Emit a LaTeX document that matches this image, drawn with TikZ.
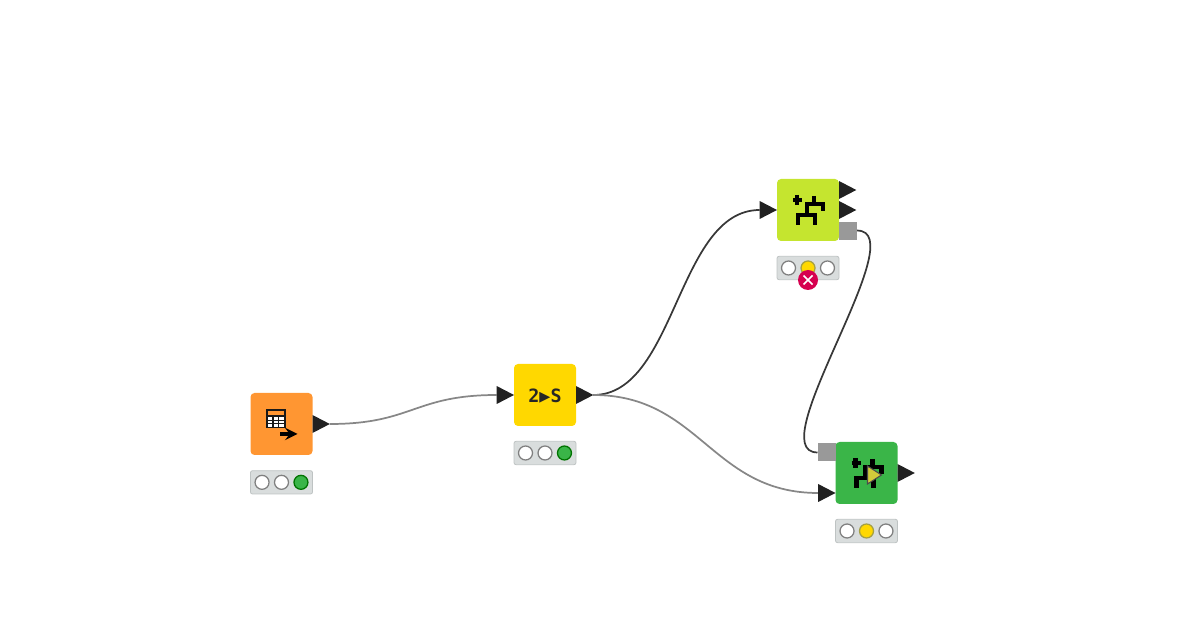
\documentclass[tikz,border=0pt]{standalone}
\usepackage{fontspec}
\newfontfamily\iconfont{DejaVu Sans Mono}
\usetikzlibrary{
    backgrounds,
    positioning,
    shapes.geometric
}
\definecolor{nodeorange}{HTML}{FF9632}
\definecolor{nodeyellow}{HTML}{FFD800}
\definecolor{nodelime}{HTML}{C5E52F}
\definecolor{nodegreen}{HTML}{3AB548}
\definecolor{errorred}{HTML}{D6004F}
\definecolor{barfill}{HTML}{D9DDDD}
\definecolor{barline}{HTML}{BEC3C3}
\definecolor{playyellow}{HTML}{D2CB3A}
\tikzset{
    nodebox/.style={rectangle, rounded corners=3pt, minimum size=46.5pt, inner sep=0pt, outer sep=0pt},
    statusbar/.style={rectangle, rounded corners=1.5pt, draw=barline, fill=barfill, line width=.6pt, minimum width=46.5pt, minimum height=17.5pt, inner sep=0pt},
    light/.style={circle, draw=black!50, fill=white, line width=.95pt, minimum size=10.5pt, inner sep=0pt},
    lightgreen/.style={light, draw=green!45!black, fill=nodegreen},
    lightyellow/.style={light, draw=yellow!60!black, fill=nodeyellow},
    porttri/.style={isosceles triangle, isosceles triangle stretches, shape border rotate=0, fill=black!87, minimum width=13.5pt, minimum height=13pt, inner sep=0pt, outer sep=0pt, anchor=lower side},
    portsq/.style={rectangle, fill=black!40, minimum size=13.5pt, inner sep=0pt, outer sep=0pt},
    wire/.style={line width=1.3pt, draw=black!78, out=0, in=180},
    datawire/.style={wire, draw=black!47},
    errorbadge/.style={circle, fill=errorred, minimum size=15pt, inner sep=0pt},
    pics/crossicon/.style={code={
        \draw[line width=3.3pt] (-15,-10) -- (-6,-10) (-11,-15) -- (-11,-5);
        \draw[line width=3.3pt] (6,-14) -- (6,-6) (-1,5) -- (-1,-6) -- (15,-6) -- (15,1);
        \draw[line width=3.3pt] (-10,15) -- (-10,5) -- (7,5) -- (7,15);
    }},
}

\begin{document}
\begin{tikzpicture}[x=.75pt,y=-.75pt,on grid]
   \useasboundingbox (0,0) rectangle (1200,630);
   % nodes
   \node[nodebox,fill=nodeorange] (n_1) at (281.5,424) {};
   \node[nodebox,fill=nodeyellow] (n_2) at (545,395) {};
   \node[nodebox,fill=nodelime] (n_3) at (808,210) {};
   \node[nodebox,fill=nodegreen] (n_4) at (866.5,473) {};
   % status bars
   \node[statusbar] (s_1) [below=43.75pt of n_1] {};
   \node[statusbar] (s_2) [below=43.5pt of n_2] {};
   \node[statusbar] (s_3) [below=43.5pt of n_3] {};
   \node[statusbar] (s_4) [below=43.5pt of n_4] {};
   \node[light] (l_12) at (s_1) {};
   \node[light] (l_11) [left=14.6pt of l_12] {};
   \node[lightgreen] (l_13) [right=14.6pt of l_12] {};
   \node[light] (l_22) at (s_2) {};
   \node[light] (l_21) [left=14.6pt of l_22] {};
   \node[lightgreen] (l_23) [right=14.6pt of l_22] {};
   \node[lightyellow] (l_32) at (s_3) {};
   \node[light] (l_31) [left=14.6pt of l_32] {};
   \node[light] (l_33) [right=14.6pt of l_32] {};
   \node[lightyellow] (l_42) at (s_4) {};
   \node[light] (l_41) [left=14.6pt of l_42] {};
   \node[light] (l_43) [right=14.6pt of l_42] {};
   \node[errorbadge] (e_3) [below=9pt of l_32] {};
   \draw[white,line width=1.2pt] (e_3.center) +(-4.5,-4.5) -- +(4.5,4.5) +(-4.5,4.5) -- +(4.5,-4.5);
   % ports
   \node[porttri] (p_1o) at (n_1.east) {};
   \node[porttri,anchor=apex] (p_2i) at (n_2.west) {};
   \node[porttri] (p_2o) at (n_2.east) {};
   \node[porttri,anchor=apex] (p_3i) at (n_3.west) {};
   \node[porttri,yshift=15pt] (p_3a) at (n_3.east) {};
   \node[porttri] (p_3b) at (n_3.east) {};
   \node[portsq,anchor=west,yshift=-15.4pt] (p_3c) at (n_3.east) {};
   \node[portsq,anchor=east,yshift=15.4pt] (p_4c) at (n_4.west) {};
   \node[porttri,anchor=apex,yshift=-15pt] (p_4i) at (n_4.west) {};
   \node[porttri] (p_4o) at (n_4.east) {};
   % connectors
   \begin{scope}[on background layer]
    \path
    (p_1o) edge[datawire,distance=62pt] (p_2i)
    (p_2o) edge[wire,distance=62pt] (p_3i)
    (p_2o) edge[datawire,distance=80pt] (p_4i)
    (p_3c) edge[wire,distance=44pt] (p_4c);
   \end{scope}
   % icons
   \begin{scope}[shift={(n_1.center)}]
    \fill[black!90] (-15.5,-15) rectangle (4.5,4);
    \fill[nodeorange] (-13.5,-13) rectangle (2.5,-8.5);
    \foreach \i in {0,1,2}
      \foreach \j in {0,1,2}
        \fill[white] (-13.5+5.6*\i,-7+3.7*\j) rectangle (-9.2+5.6*\i,-4.2+3.7*\j);
    \draw[->,>=stealth,line width=3pt] (-1.5,10) -- (16,10);
   \end{scope}
   \node[font=\iconfont\bfseries\fontsize{13.75pt}{14pt}\selectfont,inner sep=0pt,yshift=-.8pt,text=black!85] (t_2) at (n_2.center) {2▶S};
   \pic at (n_3.center) {crossicon};
   \pic at (n_4.center) {crossicon};
   \draw[fill=playyellow,draw=black!70,line width=.8pt,shift={(n_4.center)}] (1,-7) -- (15,2) -- (1,11) -- cycle;
\end{tikzpicture}
\end{document}
